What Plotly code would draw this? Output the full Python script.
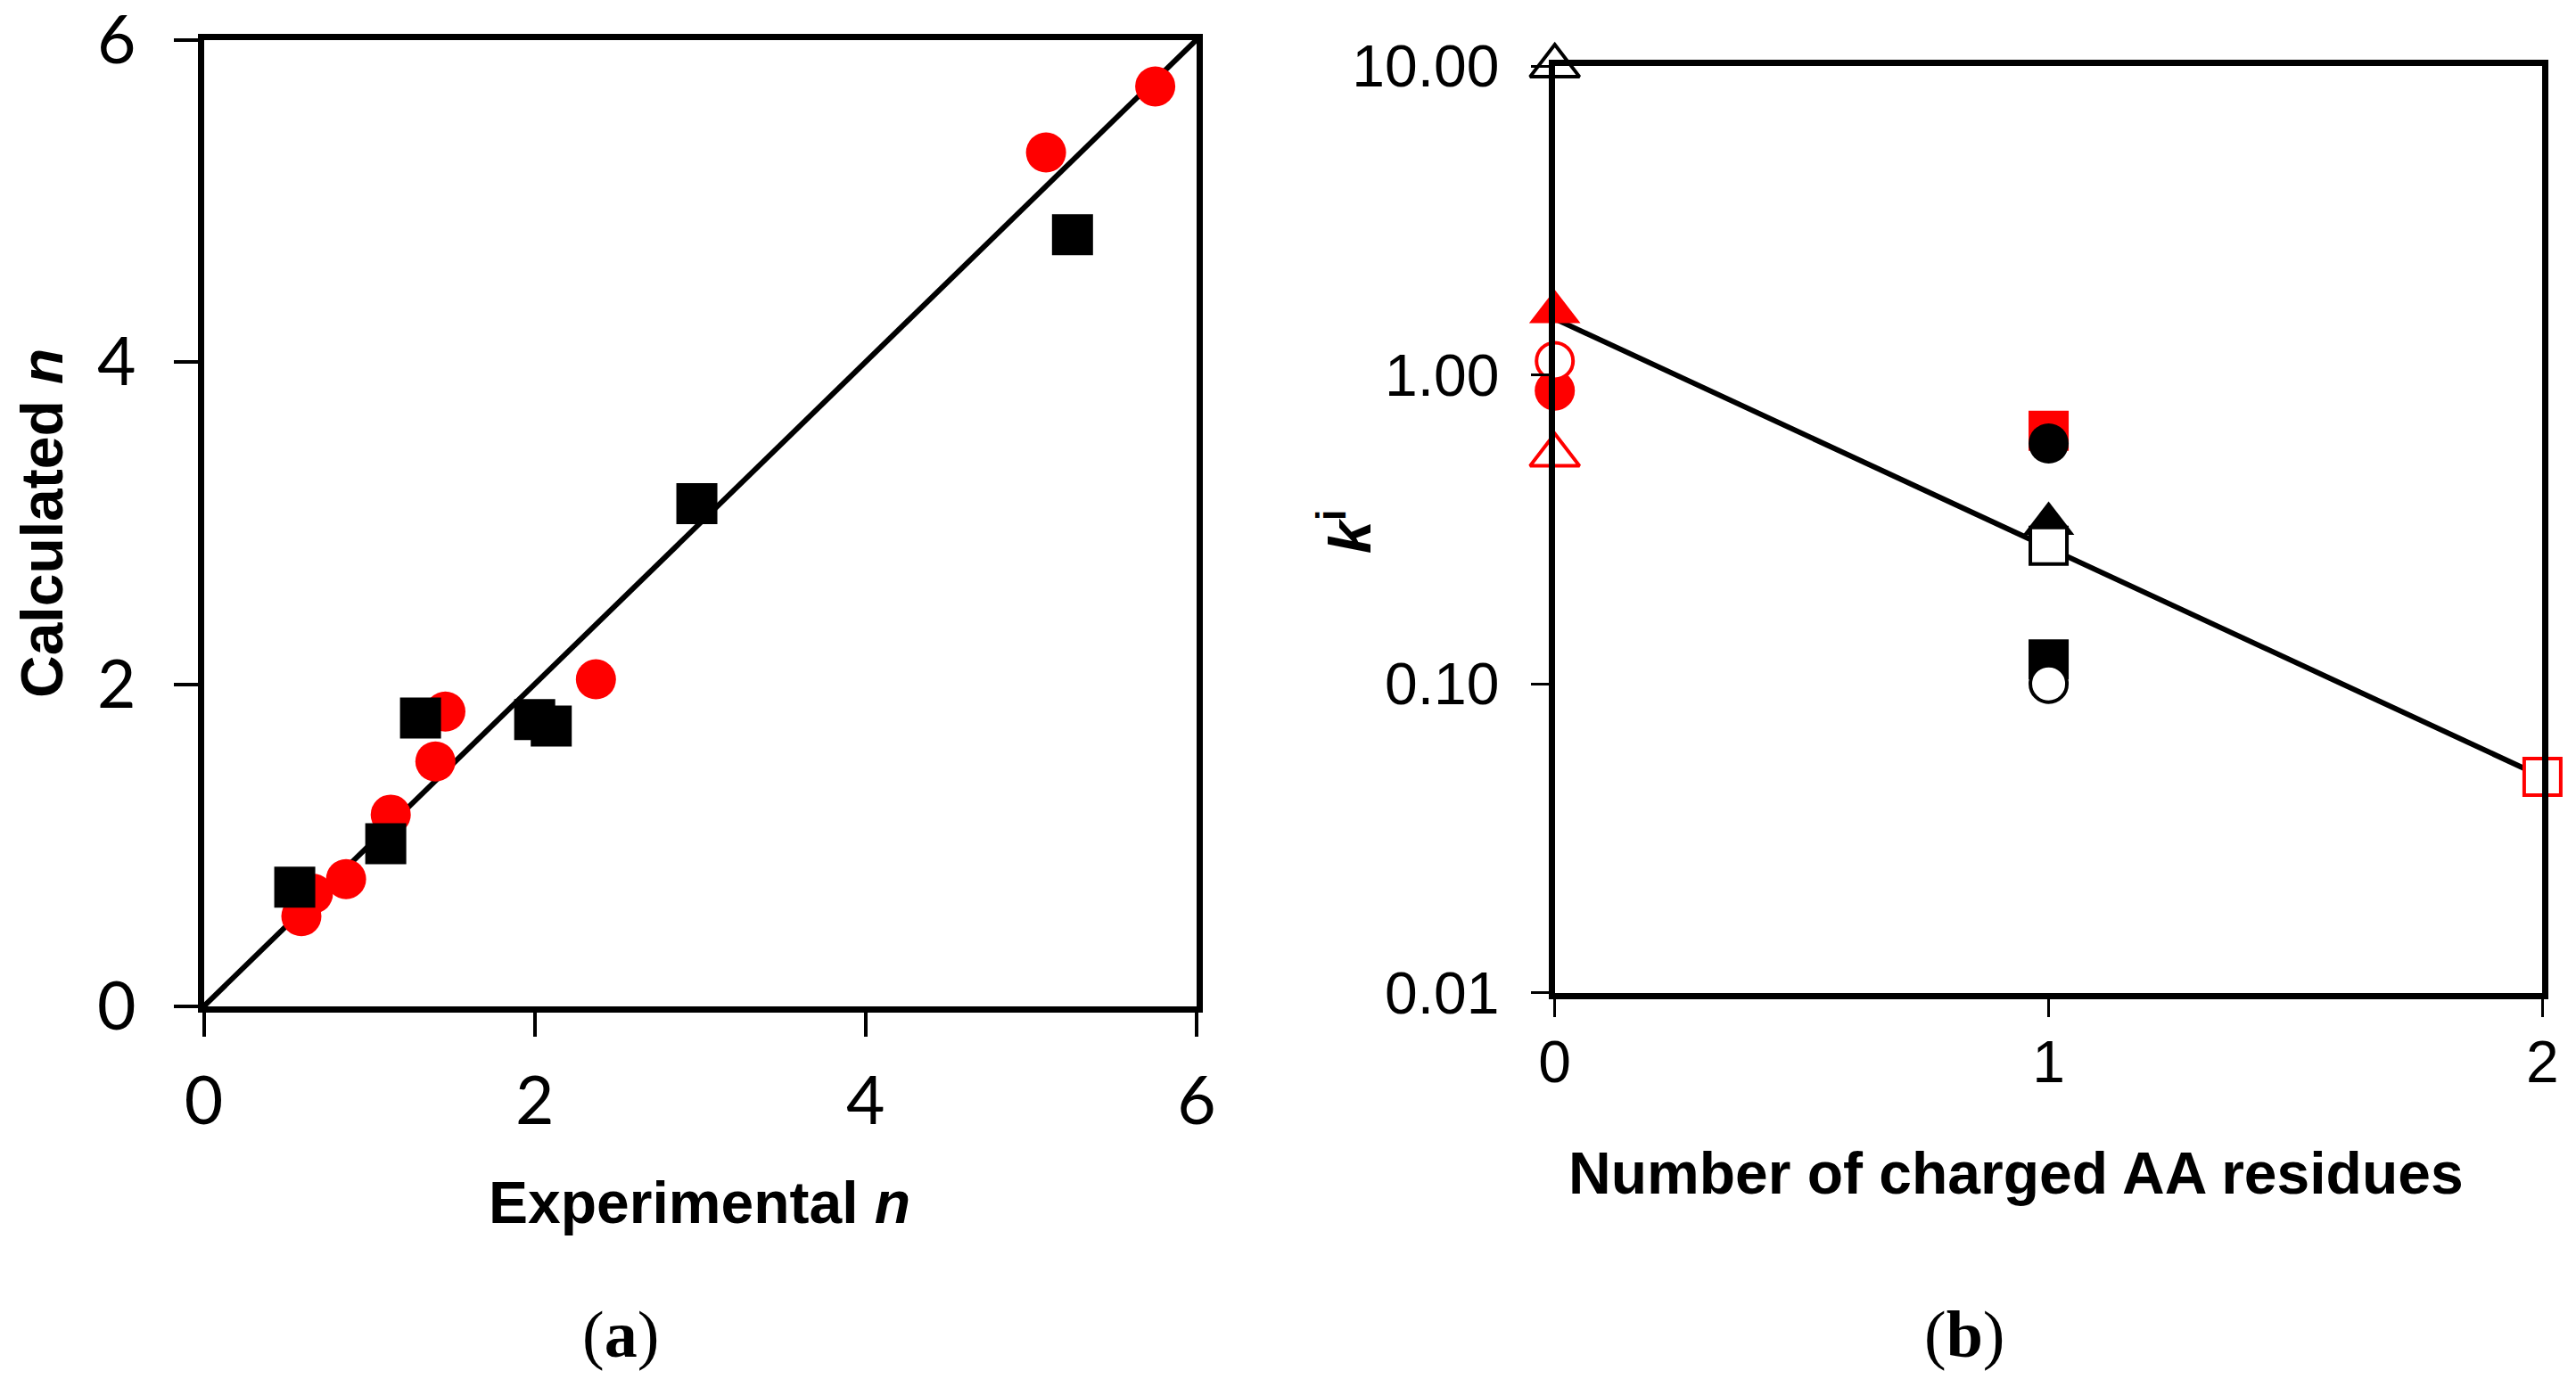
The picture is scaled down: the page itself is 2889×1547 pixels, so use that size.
import plotly.graph_objects as go

# ---------------- Panel (a): calculated vs experimental n ----------------
red_exp = [0.59, 0.66, 0.86, 1.13, 1.40, 1.46, 2.37, 5.09, 5.75]
red_calc = [0.56, 0.70, 0.79, 1.19, 1.52, 1.83, 2.03, 5.30, 5.71]
black_exp = [0.55, 1.10, 1.31, 2.00, 2.10, 2.98, 5.25]
black_calc = [0.74, 1.01, 1.79, 1.78, 1.74, 3.12, 4.79]
diag_x = [0, 6]
diag_y = [0, 6]
a_ticks = [0, 2, 4, 6]

# ---------------- Panel (b): k^i vs number of charged AA residues ----------------
b_xticks = [0, 1, 2]
b_yticks = [0.01, 0.1, 1, 10]
b_ytext = ["0.01", "0.10", "1.00", "10.00"]
trend_x = [0, 2]
trend_k = [1.52, 0.05]

red_filled_sq_x, red_filled_sq_k = [1], [0.66]
black_filled_sq_x, black_filled_sq_k = [1], [0.12]
black_filled_tri_x, black_filled_tri_k = [1], [0.33]
red_filled_tri_x, red_filled_tri_k = [0], [1.60]
red_filled_circ_x, red_filled_circ_k = [0], [0.89]
black_filled_circ_x, black_filled_circ_k = [1], [0.60]
black_open_sq_x, black_open_sq_k = [1], [0.28]
red_open_sq_x, red_open_sq_k = [2], [0.05]
black_open_circ_x, black_open_circ_k = [1], [0.10]
red_open_circ_x, red_open_circ_k = [0], [1.11]
red_open_tri_x, red_open_tri_k = [0], [0.55]
black_open_tri_x, black_open_tri_k = [0], [10.0]

RED = "#ff0000"
BLACK = "#000000"

fig = go.Figure()

# Panel (a)
fig.add_trace(go.Scatter(x=diag_x, y=diag_y, mode="lines",
                         line=dict(color=BLACK, width=6), xaxis="x", yaxis="y",
                         showlegend=False, hoverinfo="skip"))
fig.add_trace(go.Scatter(x=red_exp, y=red_calc, mode="markers",
                         marker=dict(symbol="circle", size=45, color=RED, line=dict(width=0)),
                         xaxis="x", yaxis="y", showlegend=False, cliponaxis=False))
fig.add_trace(go.Scatter(x=black_exp, y=black_calc, mode="markers",
                         marker=dict(symbol="square", size=46, color=BLACK, line=dict(width=0)),
                         xaxis="x", yaxis="y", showlegend=False, cliponaxis=False))

# Panel (b)
fig.add_trace(go.Scatter(x=trend_x, y=trend_k, mode="lines",
                         line=dict(color=BLACK, width=6), xaxis="x2", yaxis="y2",
                         showlegend=False, hoverinfo="skip", cliponaxis=False))


def pts(xs, ks, symbol, size, fill, edge, lw):
    fig.add_trace(go.Scatter(x=xs, y=ks, mode="markers",
                             marker=dict(symbol=symbol, size=size, color=fill,
                                         line=dict(color=edge, width=lw)),
                             xaxis="x2", yaxis="y2", showlegend=False, cliponaxis=False))


pts(red_filled_sq_x, red_filled_sq_k, "square", 45, RED, RED, 0)
pts(black_filled_sq_x, black_filled_sq_k, "square", 45, BLACK, BLACK, 0)
pts(black_filled_tri_x, black_filled_tri_k, "triangle-up", 50, BLACK, BLACK, 0)
pts(red_filled_tri_x, red_filled_tri_k, "triangle-up", 50, RED, RED, 0)
pts(red_filled_circ_x, red_filled_circ_k, "circle", 45, RED, RED, 0)
pts(black_filled_circ_x, black_filled_circ_k, "circle", 45, BLACK, BLACK, 0)
pts(black_open_sq_x, black_open_sq_k, "square", 41, "white", BLACK, 4)
pts(red_open_sq_x, red_open_sq_k, "square", 41, "white", RED, 4)
pts(black_open_circ_x, black_open_circ_k, "circle", 41, "white", BLACK, 4)
pts(red_open_circ_x, red_open_circ_k, "circle", 41, "white", RED, 4)
pts(red_open_tri_x, red_open_tri_k, "triangle-up", 48, "white", RED, 4)
pts(black_open_tri_x, black_open_tri_k, "triangle-up", 48, "white", BLACK, 4)

W, H = 2889, 1547

common = dict(showgrid=False, zeroline=False, showline=True, linecolor=BLACK,
              linewidth=7, mirror=True, ticks="outside", tickcolor=BLACK,
              automargin=False, ticklabeloverflow="allow")

fig.update_layout(
    width=W, height=H,
    margin=dict(l=0, r=0, t=0, b=0, autoexpand=False),
    paper_bgcolor="white", plot_bgcolor="white",
    xaxis=dict(domain=[228.5 / W, 1342 / W], range=[0, 6], tickvals=a_ticks,
               ticklen=27, tickwidth=4, ticklabelstandoff=8,
               tickfont=dict(family="Lato", size=75, color=BLACK), anchor="y", **common),
    yaxis=dict(domain=[(H - 1129) / H, (H - 44.5) / H], range=[0, 6], tickvals=a_ticks,
               ticklen=27, tickwidth=4, ticklabelstandoff=27,
               tickfont=dict(family="Lato", size=75, color=BLACK), anchor="x", **common),
    xaxis2=dict(domain=[1743.7 / W, 2851.4 / W], range=[0, 2], tickvals=b_xticks,
                ticklen=20, tickwidth=3, ticklabelstandoff=-6,
                tickfont=dict(family="Liberation Sans", size=66, color=BLACK), anchor="y2", **common),
    yaxis2=dict(domain=[(H - 1113.7) / H, (H - 74.1) / H], type="log", range=[-2, 1],
                tickvals=b_yticks, ticktext=b_ytext,
                ticklen=20, tickwidth=3, ticklabelstandoff=22,
                tickfont=dict(family="Liberation Sans", size=66, color=BLACK), anchor="x2", **common),
)

title_font = dict(family="Liberation Sans", size=66, color=BLACK)
ann = [
    dict(text="<b>Calculated <i>n</i></b>", x=47 / W, y=(H - 587) / H, textangle=-90),
    dict(text="<b>Experimental <i>n</i></b>", x=784 / W, y=(H - 1349) / H, textangle=0),
    dict(text="<b>Number of charged AA residues</b>", x=2261 / W, y=(H - 1316) / H, textangle=0),
    dict(text="<b><i>k</i><sup>i</sup></b>", x=1509 / W, y=(H - 596) / H, textangle=-90),
]
for a in ann:
    fig.add_annotation(xref="paper", yref="paper", showarrow=False,
                       xanchor="center", yanchor="middle", font=title_font, **a)

label_font = dict(family="Liberation Serif", size=74, color=BLACK)
fig.add_annotation(text="(<b>a</b>)", x=696 / W, y=(H - 1497) / H, xref="paper", yref="paper",
                   showarrow=False, xanchor="center", yanchor="middle", font=label_font)
fig.add_annotation(text="(<b>b</b>)", x=2203 / W, y=(H - 1497) / H, xref="paper", yref="paper",
                   showarrow=False, xanchor="center", yanchor="middle", font=label_font)

fig.write_html("out.html")
